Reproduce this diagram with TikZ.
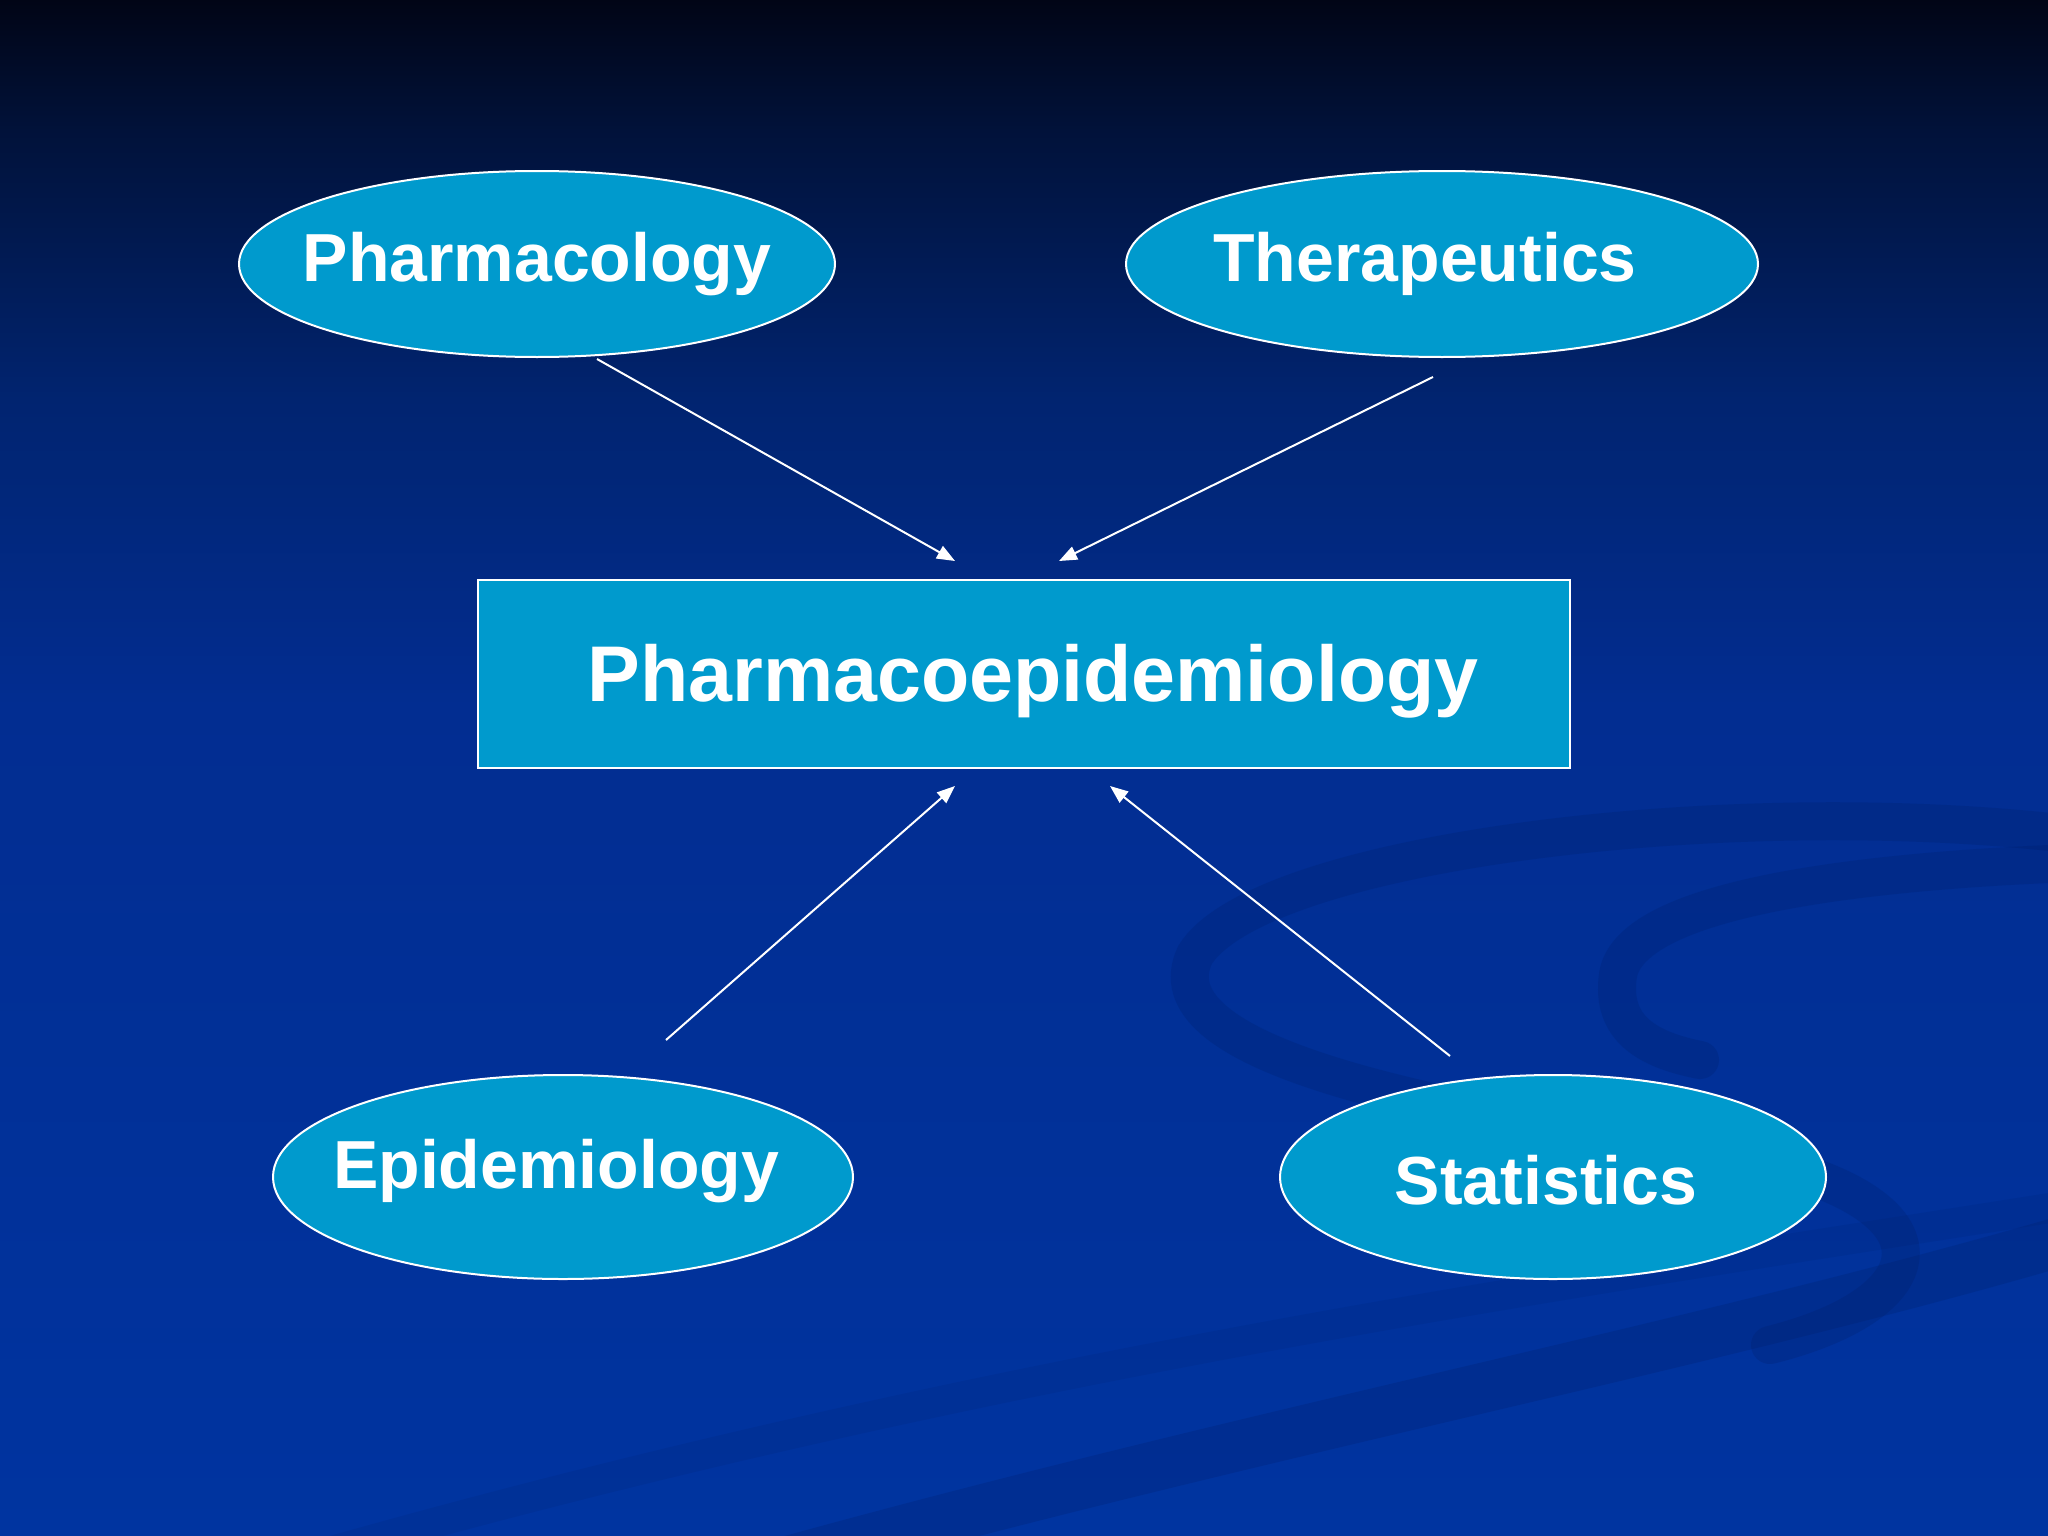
\documentclass[tikz,border=0pt]{standalone}
\usepackage{fontspec}
\setmainfont{Liberation Sans}
\usetikzlibrary{shapes.geometric,arrows.meta}
\definecolor{bgtop}{RGB}{1,5,22}
\definecolor{bgdark}{RGB}{1,18,58}
\definecolor{bgup}{RGB}{1,36,112}
\definecolor{bgmid}{RGB}{2,45,145}
\definecolor{bgbot}{RGB}{0,52,160}
\definecolor{boxfill}{RGB}{0,154,205}
\definecolor{swooshcol}{RGB}{0,28,100}
\pgfdeclareverticalshading{bgshade}{100bp}{color(0bp)=(bgbot); color(25bp)=(bgbot); color(52bp)=(bgmid); color(62bp)=(bgup); color(70.75bp)=(bgdark); color(75bp)=(bgtop); color(100bp)=(bgtop)}
\begin{document}
\begin{tikzpicture}[x=1pt,y=-1pt,
  oval/.style={ellipse, draw=white, line width=2pt, fill=boxfill, text=white,
    inner sep=0pt, font=\bfseries\fontsize{68}{80}\selectfont},
  centerbox/.style={rectangle, draw=white, line width=2pt, fill=boxfill, text=white,
    inner sep=0pt, minimum width=1092pt, minimum height=188pt,
    font=\bfseries\fontsize{79}{92}\selectfont},
  arr/.style={draw=white, line width=2pt, -{Triangle[length=18pt,width=14pt]}},
  swoosh/.style={draw=swooshcol, line width=38pt, line cap=round, opacity=0.22}]
\shade[shading=bgshade] (0,0) rectangle (2048,1536);
\useasboundingbox (0,0) rectangle (2048,1536);
% faint background swooshes
\begin{scope}
\clip (0,0) rectangle (2048,1536);
\draw[swoosh] (2100,838) .. controls (1750,790) and (1260,850) .. (1195,955)
  .. controls (1150,1050) and (1400,1105) .. (1700,1150)
  .. controls (1960,1190) and (1950,1300) .. (1770,1345);
\draw[swoosh] (2100,862) .. controls (1850,870) and (1630,900) .. (1618,975)
  .. controls (1610,1030) and (1650,1050) .. (1700,1060);
\draw[swoosh, line width=50pt] (2100,1230) .. controls (1700,1350) and (1200,1440) .. (650,1600);
\draw[swoosh, line width=30pt, opacity=0.12] (2100,1200) .. controls (1600,1280) and (1000,1360) .. (300,1560);
\end{scope}
% nodes
\node[oval, minimum width=596pt, minimum height=186pt] (ph) at (537,264) {\makebox[0pt]{Pharmacology}};
\node[oval, minimum width=632pt, minimum height=186pt] (th) at (1442,264) {\makebox[0pt]{Therapeutics\hspace*{34pt}}};
\node[oval, minimum width=580pt, minimum height=204pt] (ep) at (563,1177) {\makebox[0pt]{\raisebox{6pt}[\height][\depth]{Epidemiology}\hspace*{14pt}}};
\node[oval, minimum width=546pt, minimum height=204pt] (st) at (1553,1177) {\makebox[0pt]{\raisebox{-3pt}[\height][\depth]{Statistics}\hspace*{14pt}}};
\node[centerbox] (pe) at (1024,674) {\raisebox{-7pt}[\height][\depth]{\hspace*{18pt}Pharmacoepidemiology}};
% arrows
\draw[arr] ([shift={(60pt,-1pt)}]ph.south) -- ([shift={(-69pt,18pt)}]pe.north);
\draw[arr] ([shift={(-9pt,-19pt)}]th.south) -- ([shift={(35pt,18pt)}]pe.north);
\draw[arr] ([shift={(103pt,34pt)}]ep.north) -- ([shift={(-69pt,-17pt)}]pe.south);
\draw[arr] ([shift={(-103pt,18pt)}]st.north) -- ([shift={(86pt,-17pt)}]pe.south);
\end{tikzpicture}
\end{document}
